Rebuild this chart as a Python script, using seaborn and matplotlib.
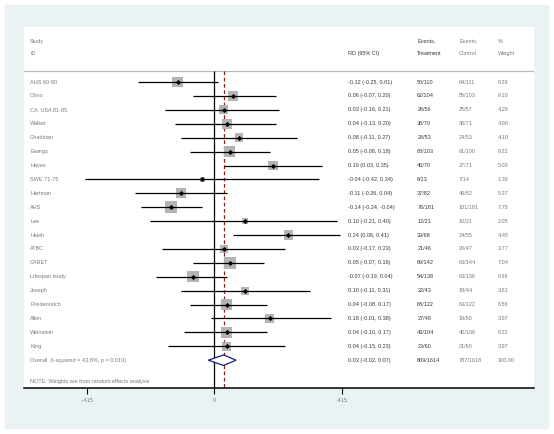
import matplotlib
matplotlib.use("Agg")
import matplotlib.pyplot as plt
from matplotlib.patches import Rectangle, Polygon
import numpy as np
import pandas as pd
import seaborn as sns

# Datos del forest plot
estudios = ["AHS 60-80", "Ohno", "CA, USA 81-85", "Walker", "Ghadirian", "Ewings",
            "Hayes", "SWE 71-75", "Hartman", "AHS", "Lee", "Hsieh", "ATBC", "CARET",
            "Lifespan study", "Joseph", "Friedenreich", "Allen", "Weinstein", "King"]
rd = [-0.12, 0.06, 0.03, 0.04, 0.08, 0.05, 0.19, -0.04, -0.11, -0.14,
      0.10, 0.24, 0.03, 0.05, -0.07, 0.10, 0.04, 0.18, 0.04, 0.04]
ic_inf = [-0.25, -0.07, -0.16, -0.13, -0.11, -0.08, 0.03, -0.42, -0.26, -0.24,
          -0.21, 0.06, -0.17, -0.07, -0.19, -0.11, -0.08, -0.01, -0.10, -0.15]
ic_sup = [0.01, 0.20, 0.21, 0.20, 0.27, 0.18, 0.35, 0.34, 0.04, -0.04,
          0.40, 0.41, 0.23, 0.16, 0.04, 0.31, 0.17, 0.38, 0.17, 0.23]
eventos_trat = ["50/110", "62/104", "26/56", "38/70", "28/53", "68/103", "40/70",
                "6/13", "37/82", "76/181", "12/21", "39/68", "21/46", "69/142",
                "54/138", "22/43", "68/122", "27/48", "43/104", "23/60"]
eventos_ctrl = ["64/111", "55/103", "25/57", "36/71", "24/53", "61/100", "27/71",
                "7/14", "46/82", "101/181", "10/21", "24/55", "20/47", "63/144",
                "63/136", "18/44", "63/122", "19/50", "40/106", "21/60"]
peso = [6.29, 6.10, 4.29, 4.90, 4.10, 6.22, 5.00, 1.39, 5.37, 7.75,
        2.05, 4.45, 3.77, 7.04, 6.96, 3.61, 6.56, 3.97, 6.22, 3.97]

global_rd, global_inf, global_sup = 0.03, -0.02, 0.07
global_trat, global_ctrl, global_peso = "809/1614", "787/1618", "100.00"
etiqueta_global = "Overall  (I-squared = 43.8%, p = 0.019)"
nota = "NOTE: Weights are from random effects analysis"
ticks_x = [-0.415, 0, 0.415]
etiquetas_x = ["-.415", "0", ".415"]

df = pd.DataFrame({"estudio": estudios, "rd": rd, "inf": ic_inf, "sup": ic_sup,
                   "trat": eventos_trat, "ctrl": eventos_ctrl, "peso": peso})
df["fila"] = np.arange(len(df))
fila_global = len(df)

plt.rcParams["font.family"] = ["Liberation Sans", "DejaVu Sans"]
fs = 4.0
gris = "#7a7a7a"
oscuro = "#3a3a3a"

fig = plt.figure(figsize=(5.54, 4.34), dpi=100, facecolor="white")
fondo = Rectangle((5 / 554, 6 / 434), 543 / 554, 423 / 434,
                  transform=fig.transFigure, color="#eaf2f3", zorder=-10)
fig.add_artist(fondo)
ax = fig.add_axes([24 / 554, 46 / 434, 510 / 554, 361 / 434])
ax.set_zorder(1)
ax.set_facecolor("white")
ax.set_xlim(-0.620, 1.040)
ax.set_ylim(22.0, -3.96)

y_sep = -0.79
ax.axhline(y_sep, color="#b8b8b8", lw=0.9)
ax.vlines(0, y_sep, 22.0, color="black", lw=0.9)
ax.vlines(global_rd, y_sep, 22.0, color="#8b2020", lw=0.9, linestyle=(0, (3, 2)))

# cuadros con área proporcional al peso
sns.scatterplot(data=df, x="rd", y="fila", size="peso", sizes=(0, 100),
                size_norm=(0, 10.4), marker="s", color="#b4b4b4",
                edgecolor="none", linewidth=0, legend=False, ax=ax, zorder=2)
ax.hlines(df["fila"], df["inf"], df["sup"], color="black", lw=0.9, zorder=3)
sns.scatterplot(data=df, x="rd", y="fila", marker="D", s=7, color="black",
                edgecolor="black", linewidth=0, legend=False, ax=ax, zorder=4)

h = 0.38
ax.add_patch(Polygon([(global_inf, fila_global), (global_rd, fila_global - h),
                      (global_sup, fila_global), (global_rd, fila_global + h)],
                     closed=True, facecolor="white", edgecolor="#1a1a7a",
                     lw=0.9, zorder=3))

# columnas de texto
tr = ax.get_yaxis_transform()
cols = {"est": 0.0118, "rd": 0.635, "trat": 0.771, "ctrl": 0.853, "peso": 0.929}
kw = dict(fontsize=fs, va="center", ha="left", transform=tr)
ax.text(cols["est"], -2.95, "Study", color=gris, **kw)
ax.text(cols["est"], -2.09, "ID", color=gris, **kw)
ax.text(cols["rd"], -2.09, "RD (95% CI)", color=oscuro, **kw)
ax.text(cols["trat"], -2.95, "Events,", color=oscuro, **kw)
ax.text(cols["trat"], -2.09, "Treatment", color=oscuro, **kw)
ax.text(cols["ctrl"], -2.95, "Events,", color=gris, **kw)
ax.text(cols["ctrl"], -2.09, "Control", color=gris, **kw)
ax.text(cols["peso"], -2.95, "%", color=gris, **kw)
ax.text(cols["peso"], -2.09, "Weight", color=gris, **kw)

for _, r in df.iterrows():
    y = r["fila"]
    ax.text(cols["est"], y, r["estudio"], color=gris, **kw)
    ax.text(cols["rd"], y, f"{r['rd']:.2f} ({r['inf']:.2f}, {r['sup']:.2f})",
            color=oscuro, **kw)
    ax.text(cols["trat"], y, r["trat"], color=oscuro, **kw)
    ax.text(cols["ctrl"], y, r["ctrl"], color=gris, **kw)
    ax.text(cols["peso"], y, f"{r['peso']:.2f}", color=gris, **kw)

ax.text(cols["est"], fila_global, etiqueta_global, color=gris, **kw)
ax.text(cols["rd"], fila_global, f"{global_rd:.2f} ({global_inf:.2f}, {global_sup:.2f})",
        color=oscuro, **kw)
ax.text(cols["trat"], fila_global, global_trat, color=oscuro, **kw)
ax.text(cols["ctrl"], fila_global, global_ctrl, color=gris, **kw)
ax.text(cols["peso"], fila_global, global_peso, color=gris, **kw)
ax.text(cols["est"], 21.5, nota, color=gris, **kw)

for lado in ["top", "left", "right"]:
    ax.spines[lado].set_visible(False)
ax.spines["bottom"].set_linewidth(1.1)
ax.set_yticks([])
ax.set_xticks(ticks_x)
ax.set_xticklabels(etiquetas_x)
ax.tick_params(axis="x", length=4, width=0.8, color="black", labelsize=fs,
               labelcolor=gris, pad=3)
ax.set_xlabel("")
ax.set_ylabel("")

fig.savefig("out.png", dpi=100, facecolor="white")
